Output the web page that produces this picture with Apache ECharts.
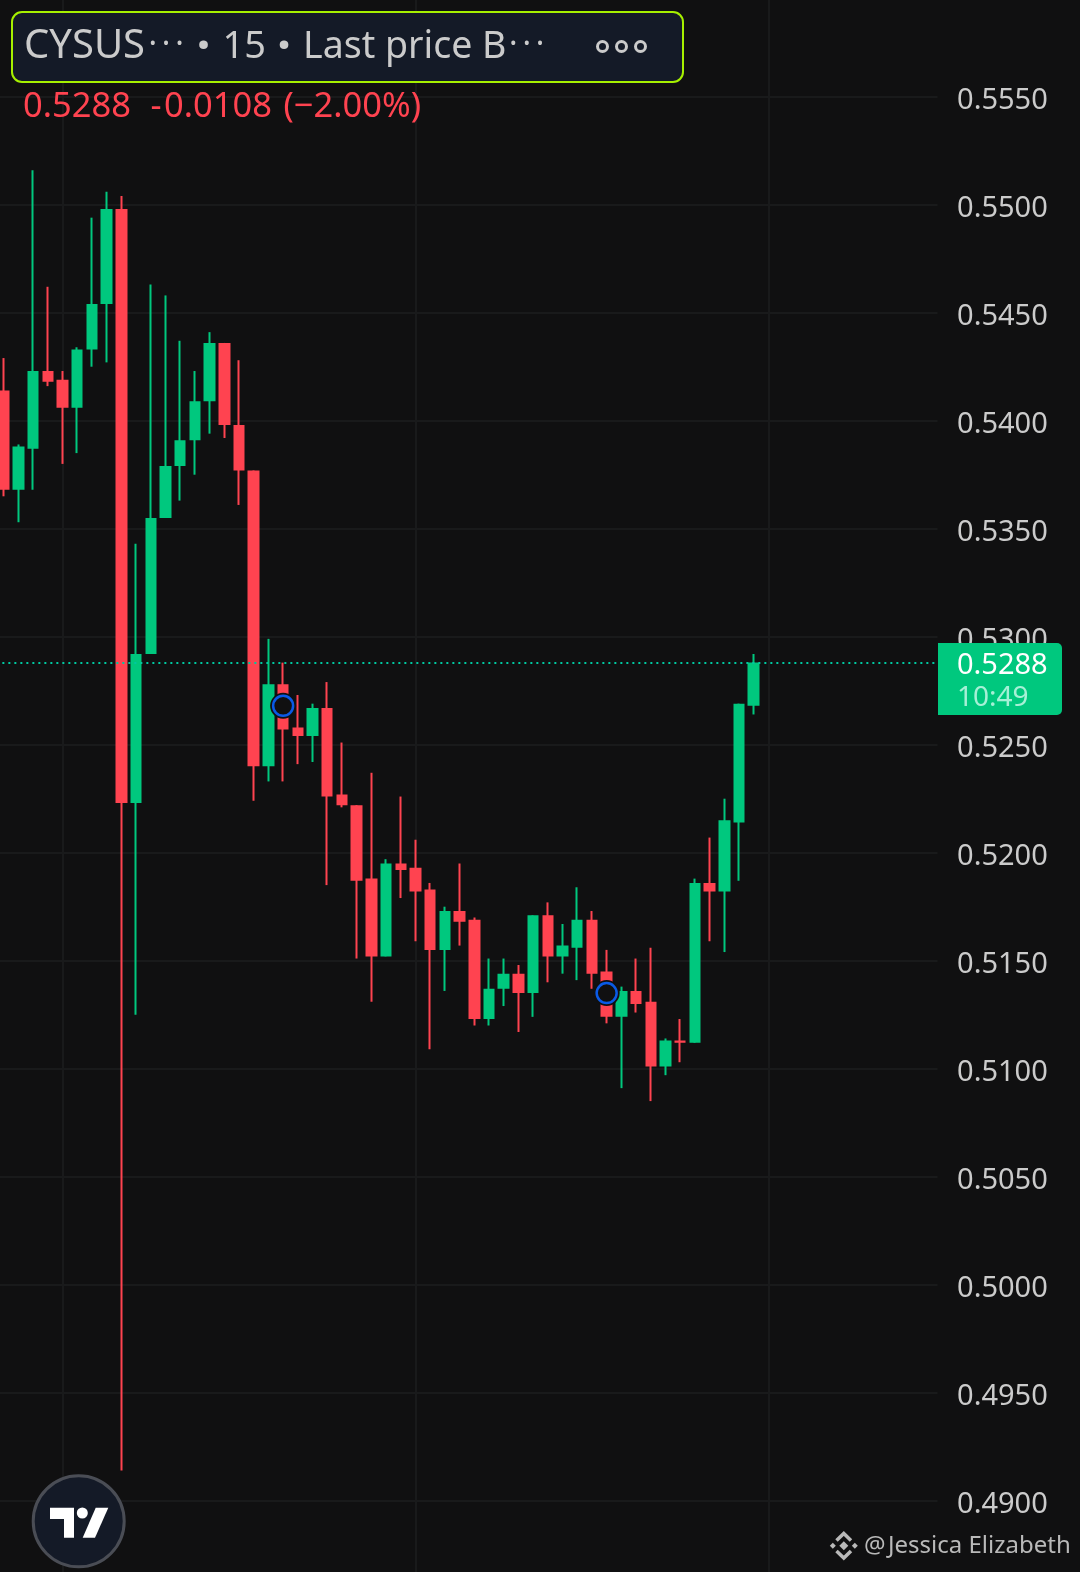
<!DOCTYPE html>
<html>
<head>
<meta charset="utf-8">
<style>html,body{margin:0;padding:0;background:#101011}#c{width:1080px;height:1572px}</style>
<script src="https://cdn.jsdelivr.net/npm/echarts@6/dist/echarts.min.js"></script>
</head>
<body>
<div id="c"></div>
<script>
const categories = [0,1,2,3,4,5,6,7,8,9,10,11,12,13,14,15,16,17,18,19,20,21,22,23,24,25,26,27,28,29,30,31,32,33,34,35,36,37,38,39,40,41,42,43,44,45,46,47,48,49,50,51,52,53,54,55,56,57,58,59,60,61,62,63];
const opens = [0.5414,0.5368,0.5387,0.5423,0.5419,0.5406,0.5433,0.5454,0.5498,0.5223,0.5292,0.5355,0.5379,0.5391,0.5409,0.5436,0.5398,0.5377,0.5240,0.5278,0.5258,0.5254,0.5267,0.5227,0.5222,0.5188,0.5152,0.5195,0.5193,0.5183,0.5155,0.5173,0.5169,0.5123,0.5137,0.5144,0.5135,0.5171,0.5152,0.5156,0.5169,0.5145,0.5124,0.5136,0.5131,0.5101,0.5113,0.5112,0.5186,0.5182,0.5214,0.5268];
const closes = [0.5368,0.5388,0.5423,0.5418,0.5406,0.5433,0.5454,0.5498,0.5223,0.5292,0.5355,0.5379,0.5391,0.5409,0.5436,0.5398,0.5377,0.5240,0.5278,0.5257,0.5254,0.5267,0.5226,0.5222,0.5187,0.5152,0.5195,0.5192,0.5182,0.5155,0.5173,0.5168,0.5123,0.5137,0.5144,0.5135,0.5171,0.5152,0.5157,0.5169,0.5144,0.5124,0.5136,0.5130,0.5101,0.5113,0.5112,0.5186,0.5182,0.5215,0.5269,0.5288];
const lows = [0.5365,0.5353,0.5368,0.5416,0.5380,0.5385,0.5425,0.5427,0.4914,0.5125,0.5292,0.5355,0.5363,0.5375,0.5394,0.5392,0.5361,0.5224,0.5233,0.5233,0.5241,0.5242,0.5185,0.5221,0.5151,0.5131,0.5152,0.5179,0.5159,0.5109,0.5136,0.5157,0.5120,0.5120,0.5129,0.5117,0.5124,0.5140,0.5144,0.5141,0.5137,0.5121,0.5091,0.5126,0.5085,0.5097,0.5103,0.5112,0.5159,0.5154,0.5187,0.5264];
const highs = [0.5429,0.5389,0.5516,0.5462,0.5423,0.5434,0.5494,0.5506,0.5504,0.5343,0.5463,0.5458,0.5437,0.5423,0.5441,0.5436,0.5428,0.5377,0.5299,0.5288,0.5273,0.5269,0.5279,0.5251,0.5222,0.5237,0.5197,0.5226,0.5206,0.5186,0.5175,0.5195,0.5170,0.5151,0.5151,0.5148,0.5171,0.5177,0.5167,0.5184,0.5173,0.5155,0.5138,0.5151,0.5156,0.5114,0.5123,0.5188,0.5207,0.5225,0.5269,0.5292];
const signalBars = [19, 41];
const signalPrices = [0.5268, 0.5135];
const lastPrice = 0.5288;
const yMin = 0.485, yMax = 0.56, yStep = 0.005;
const headerParts = [["CYSUS",24,40],["15",222.5,38],["Last price B",303,37.5]];
const headerDots = [152.7,166,179.5,513.4,526.8,540];
const headerSeparators = [203.6,284];
const quoteParts = [["0.5288",23],["-",150.5],["0.0108",164],["(\u22122.00%)",283.5]];
const tagPrice = "0.5288", tagTime = "10:49";
const creditParts = [["@",864],["Jessica Elizabeth",888]];

const BG='#101011',GRID='#191a1b',UP='#00c87e',DOWN='#ff4350',TXT='#cbcbcb',FONT='"Noto Sans"';
const candles = opens.map((o,i)=>[o,closes[i],lows[i],highs[i]]);
const signals = signalBars.map((b,i)=>[b,signalPrices[i]]);
function diamond(cx,cy,r){return {type:'polygon',shape:{points:[[cx,cy-r],[cx+r,cy],[cx,cy+r],[cx-r,cy]]},style:{fill:'#b9b9b9'}};}
const graphicEls = [
 {type:'rect',shape:{x:938,y:643,width:124,height:72,r:[0,5,5,0]},style:{fill:UP}},
 {type:'text',x:957,y:666,style:{text:tagPrice,fill:'#ffffff',font:'29px '+FONT,verticalAlign:'middle'}},
 {type:'text',x:957,y:698,style:{text:tagTime,fill:'#a6f0d6',font:'28px '+FONT,verticalAlign:'middle'}},
 {type:'rect',shape:{x:12,y:12,width:671,height:70,r:10},style:{fill:'#141a27',stroke:'#a6f000',lineWidth:2}},
 ...headerParts.map(p=>({type:'text',x:p[1],y:47,style:{text:p[0],fill:TXT,font:p[2]+'px '+FONT,verticalAlign:'middle'}})),
 ...headerDots.map(x=>({type:'text',x:x,y:45,style:{text:'\u00b7',fill:TXT,font:'32px '+FONT,align:'center',verticalAlign:'middle'}})),
 ...headerSeparators.map(x=>({type:'text',x:x,y:49,style:{text:'\u00b7',fill:TXT,font:'bold 50px '+FONT,align:'center',verticalAlign:'middle'}})),
 ...[602.5,621.5,640.5].map(x=>({type:'circle',shape:{cx:x,cy:46.5,r:5},style:{fill:'none',stroke:TXT,lineWidth:3}})),
 ...quoteParts.map(p=>({type:'text',x:p[1],y:107,style:{text:p[0],fill:DOWN,font:'34.5px '+FONT,verticalAlign:'middle'}})),
 {type:'circle',shape:{cx:78.7,cy:1521.3,r:45.5},style:{fill:'#141a27',stroke:'#4a4d55',lineWidth:3}},
 {type:'polygon',shape:{points:[[50,1507.7],[74,1507.7],[74,1537.7],[64,1537.7],[64,1519],[50,1519]]},style:{fill:'#fff'}},
 {type:'circle',shape:{cx:82.3,cy:1513,r:5.5},style:{fill:'#fff'}},
 {type:'polygon',shape:{points:[[95.7,1507.7],[108.3,1507.7],[95,1537.7],[82.7,1537.7]]},style:{fill:'#fff'}},
 {type:'polyline',shape:{points:[[836.5,1540.5],[843.8,1533.5],[851,1540.5]]},style:{fill:'none',stroke:'#b9b9b9',lineWidth:3.5}},
 {type:'polyline',shape:{points:[[836.5,1551],[843.8,1558],[851,1551]]},style:{fill:'none',stroke:'#b9b9b9',lineWidth:3.5}},
 diamond(843.8,1545.7,4.5),diamond(832.8,1545.7,3),diamond(854.8,1545.7,3),
 ...creditParts.map(p=>({type:'text',x:p[1],y:1546,style:{text:p[0],fill:'#b9b9b9',font:'24px '+FONT,verticalAlign:'middle'}}))
].map(e=>Object.assign(e,{z:100}));
const chart = echarts.init(document.getElementById('c'),null,{renderer:'canvas',width:1080,height:1572});
chart.setOption({
 animation:false,
 backgroundColor:BG,
 grid:{left:-3.65,top:-11.3,width:941.2,height:1620,containLabel:false,outerBoundsMode:'none'},
 xAxis:{type:'category',data:categories,boundaryGap:true,axisLine:{show:false},axisTick:{show:false},axisLabel:{show:false},
  splitLine:{show:true,alignWithLabel:true,interval:(i)=>(i-4)%24===0,lineStyle:{color:GRID,width:2}}},
 yAxis:{type:'value',position:'right',min:yMin,max:yMax,interval:yStep,scale:true,axisLine:{show:false},axisTick:{show:false},
  axisLabel:{show:true,margin:19.5,color:TXT,fontFamily:FONT,fontSize:29,showMinLabel:false,showMaxLabel:false,verticalAlign:'top',lineHeight:8,formatter:v=>v.toFixed(4)},
  splitLine:{show:true,lineStyle:{color:GRID,width:2}}},
 series:[
  {name:'wicks',type:'candlestick',data:candles,barWidth:0.01,clip:true,z:2,
   itemStyle:{color:UP,color0:DOWN,borderColor:UP,borderColor0:DOWN,borderColorDoji:UP,borderWidth:2},
   markLine:{silent:true,symbol:'none',animation:false,precision:4,label:{show:false},lineStyle:{color:'#00c8a0',type:[2,4],width:2},data:[{yAxis:lastPrice}]}},
  {name:'bodies',type:'candlestick',data:candles,barWidth:12,clip:true,z:3,
   itemStyle:{color:UP,color0:DOWN,borderColor:UP,borderColor0:DOWN,borderColorDoji:UP,borderWidth:0}},
  {type:'scatter',data:signals,symbol:'circle',symbolSize:26,itemStyle:{color:BG,opacity:1},z:5,silent:true},
  {type:'scatter',data:signals,symbol:'circle',symbolSize:20,itemStyle:{color:BG,borderColor:'#0a5ae6',borderWidth:2.5,opacity:1},z:6,silent:true}
 ],
 graphic:{elements:graphicEls}
});
</script>
</body>
</html>
